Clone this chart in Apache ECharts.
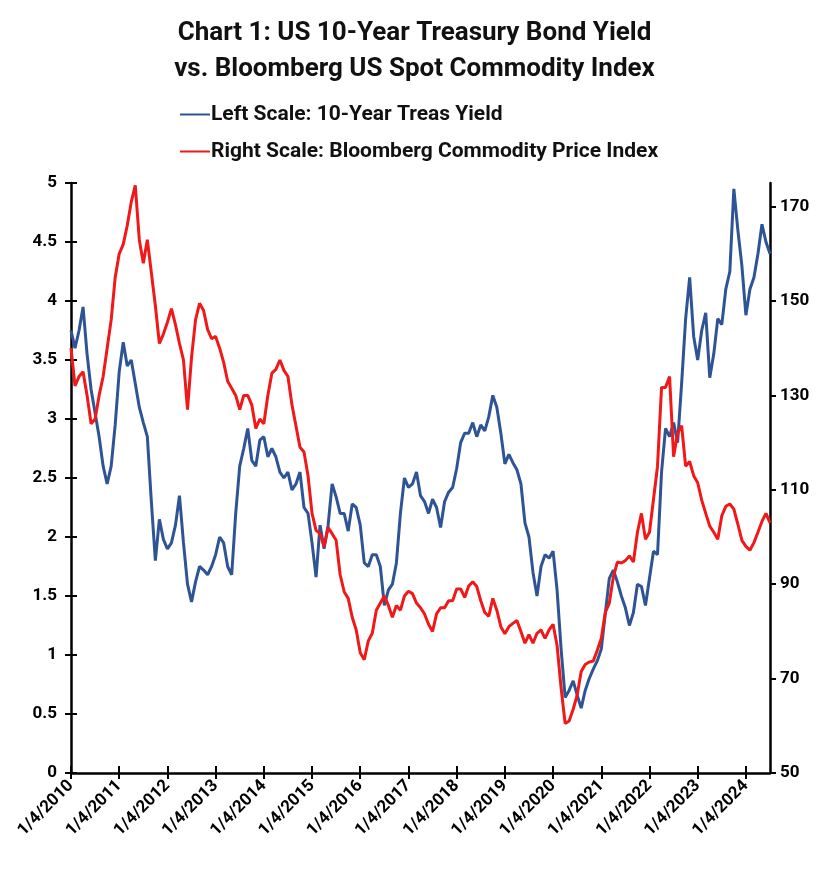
<!DOCTYPE html>
<html>
<head>
<meta charset="utf-8">
<script src="https://cdn.jsdelivr.net/npm/echarts@6/dist/echarts.min.js"></script>
<style>
  html, body { margin: 0; padding: 0; background: #fff; }
  #chart { width: 829px; height: 869px; }
</style>
</head>
<body>
<div id="chart"></div>
<script>
// monthly points, Jan 2010 .. Jul 2024
var months = [];
for (var y = 2010; y <= 2024; y++) {
    for (var m = 1; m <= 12; m++) {
        if (y === 2024 && m > 7) break;
        months.push(y + '-' + (m < 10 ? '0' + m : m));
    }
}

// left scale: 10-year treasury yield (%)
var yieldValues = [
    3.75, 3.6, 3.75, 3.95, 3.55, 3.25, 3.05, 2.85, 2.6, 2.45, 2.6, 2.95,
    3.4, 3.65, 3.45, 3.5, 3.3, 3.1, 2.97, 2.85, 2.3, 1.8, 2.15, 1.98,
    1.9, 1.95, 2.1, 2.35, 1.95, 1.6, 1.45, 1.62, 1.75, 1.72, 1.68, 1.75,
    1.85, 2.0, 1.95, 1.75, 1.68, 2.2, 2.6, 2.75, 2.92, 2.65, 2.6, 2.82,
    2.85, 2.68, 2.75, 2.68, 2.55, 2.5, 2.55, 2.4, 2.45, 2.55, 2.25, 2.2,
    1.95, 1.66, 2.1, 1.9, 2.1, 2.45, 2.34, 2.2, 2.2, 2.05, 2.28, 2.25,
    2.1, 1.78, 1.75, 1.85, 1.85, 1.75, 1.42, 1.55, 1.6, 1.78, 2.2, 2.5,
    2.42, 2.45, 2.55, 2.35, 2.3, 2.2, 2.32, 2.25, 2.08, 2.3, 2.38, 2.42,
    2.58, 2.8, 2.88, 2.88, 2.97, 2.85, 2.95, 2.9, 3.02, 3.2, 3.1, 2.88,
    2.62, 2.7, 2.63, 2.57, 2.45, 2.12, 2.0, 1.7, 1.5, 1.75, 1.85, 1.82,
    1.88, 1.55, 1.05, 0.64, 0.7, 0.78, 0.66, 0.55, 0.7, 0.8, 0.88, 0.95,
    1.05, 1.35, 1.65, 1.72, 1.62, 1.5, 1.4, 1.25, 1.36, 1.6, 1.58, 1.42,
    1.65, 1.88, 1.85, 2.55, 2.92, 2.85, 2.97, 2.8, 3.3, 3.85, 4.2, 3.7,
    3.5, 3.75, 3.9, 3.35, 3.55, 3.85, 3.8, 4.1, 4.25, 4.95, 4.6, 4.3,
    3.88, 4.1, 4.2, 4.4, 4.65, 4.5, 4.4
];

// right scale: Bloomberg commodity price index
var commodityValues = [
    140, 132, 134, 135, 130, 124, 125, 130, 134, 140, 146, 155,
    160, 162, 166, 171, 174.5, 163, 158, 163, 156, 149, 141, 143,
    145.5, 148.4, 145, 141, 137.5, 127, 138, 146, 149.5, 148, 144, 142,
    142.5, 140, 137, 133, 131.5, 130, 127, 130, 130, 128, 123, 125,
    124, 130, 134.7, 135.5, 137.5, 135.3, 134, 128, 123.5, 119, 118, 113,
    105, 101.4, 100.7, 98, 102, 100.7, 99.3, 92, 88.4, 87, 83, 80.3,
    75.5, 74, 78, 79.6, 84.5, 86, 87.5, 85.5, 83, 85.5, 84.5, 87.5,
    88.5, 88, 86, 85, 83.7, 81.5, 80, 83.7, 85, 85, 86.5, 86.5,
    89, 89, 87.2, 89.6, 90.5, 89.5, 86.5, 84, 83.2, 87, 84.5, 81,
    79.5, 81, 81.7, 82.3, 80, 77.5, 79.3, 77.5, 79.6, 80.3, 78.5, 80.3,
    81.5, 77, 68, 60.5, 61, 63.5, 66.5, 71.5, 73, 73.5, 73.7, 76,
    78.5, 84, 86, 91.5, 94.7, 94.5, 95, 96, 94.7, 101, 105, 99.5,
    101, 108, 115, 131.7, 131.7, 134, 117, 122, 123.6, 115, 116, 113,
    111.5, 107.8, 105, 102.3, 101, 99.5, 104.5, 106.5, 107, 105.9, 102.7, 99.3,
    98, 97.2, 98.8, 101, 103.3, 105, 103
];

var yearLabels = ['1/4/2010', '1/4/2011', '1/4/2012', '1/4/2013', '1/4/2014',
    '1/4/2015', '1/4/2016', '1/4/2017', '1/4/2018', '1/4/2019', '1/4/2020',
    '1/4/2021', '1/4/2022', '1/4/2023', '1/4/2024'];
var rightTicks = [50, 70, 90, 110, 130, 150, 170];

var FONT = '"Liberation Sans Narrow", "Arial Narrow", Roboto, sans-serif';
var BLUE = '#2E5496';
var RED = '#F01818';

var chart = echarts.init(document.getElementById('chart'));

function isYearStart(index) { return index % 12 === 0; }

var option = {
    backgroundColor: '#fff',
    animation: false,
    title: {
        text: 'Chart 1: US 10-Year Treasury Bond Yield\nvs. Bloomberg US Spot Commodity Index',
        left: 'center',
        top: 10,
        textStyle: {
            fontFamily: FONT, fontSize: 26, fontWeight: 'bold',
            color: '#111', lineHeight: 36
        }
    },
    legend: {
        orient: 'vertical',
        left: 175,
        top: 99,
        itemGap: 16,
        itemWidth: 30,
        itemHeight: 2,
        icon: 'rect',
        textStyle: { fontFamily: FONT, fontSize: 21, fontWeight: 'bold', color: '#111', padding: [0, 0, 0, -4] },
        data: ['Left Scale: 10-Year Treas Yield', 'Right Scale: Bloomberg Commodity Price Index']
    },
    grid: { left: 71, right: 59, top: 183, bottom: 96, containLabel: false },
    xAxis: [{
        type: 'category',
        data: months,
        boundaryGap: false,
        axisLine: { lineStyle: { color: '#000', width: 2.5 } },
        axisTick: { interval: function (i) { return isYearStart(i); }, length: 6, lineStyle: { color: '#000', width: 2 } },
        axisLabel: {
            interval: function (i) { return isYearStart(i); },
            formatter: function (v, i) { return yearLabels[i / 12] || ''; },
            rotate: 45, margin: 10,
            fontFamily: FONT, fontSize: 17, fontWeight: 'bold', color: '#000'
        },
        splitLine: { show: false }
    }, {
        type: 'category',
        data: months,
        position: 'bottom',
        boundaryGap: false,
        axisLine: { show: false },
        axisTick: { inside: true, interval: function (i) { return isYearStart(i); }, length: 7, lineStyle: { color: '#000', width: 2 } },
        axisLabel: { show: false },
        splitLine: { show: false }
    }],
    yAxis: [{
        type: 'value',
        position: 'left',
        min: 0, max: 5, interval: 0.5,
        axisLine: { show: true, lineStyle: { color: '#000', width: 2.5 } },
        axisTick: { show: true, length: 6, lineStyle: { color: '#000', width: 2 } },
        axisLabel: { margin: 14, fontFamily: FONT, fontSize: 17, fontWeight: 'bold', color: '#000' },
        splitLine: { show: false }
    }, {
        type: 'value',
        position: 'right',
        min: 50, max: 175,
        axisLine: { show: true, lineStyle: { color: '#000', width: 2.5 } },
        axisTick: { show: true, length: 6, customValues: rightTicks, lineStyle: { color: '#000', width: 2 } },
        axisLabel: { margin: 10, customValues: rightTicks, fontFamily: FONT, fontSize: 17, fontWeight: 'bold', color: '#000' },
        splitLine: { show: false }
    }, {
        type: 'value',
        position: 'left',
        min: 0, max: 5, interval: 0.5,
        axisLine: { show: false },
        axisTick: { show: true, inside: true, length: 6, lineStyle: { color: '#000', width: 2 } },
        axisLabel: { show: false },
        splitLine: { show: false }
    }],
    series: [{
        name: 'Left Scale: 10-Year Treas Yield',
        type: 'line',
        data: yieldValues,
        xAxisIndex: 0,
        yAxisIndex: 0,
        showSymbol: false,
        color: BLUE,
        lineStyle: { color: BLUE, width: 3 }
    }, {
        name: 'Right Scale: Bloomberg Commodity Price Index',
        type: 'line',
        data: commodityValues,
        xAxisIndex: 0,
        yAxisIndex: 1,
        showSymbol: false,
        color: RED,
        lineStyle: { color: RED, width: 3 }
    }]
};

chart.setOption(option);
</script>
</body>
</html>
